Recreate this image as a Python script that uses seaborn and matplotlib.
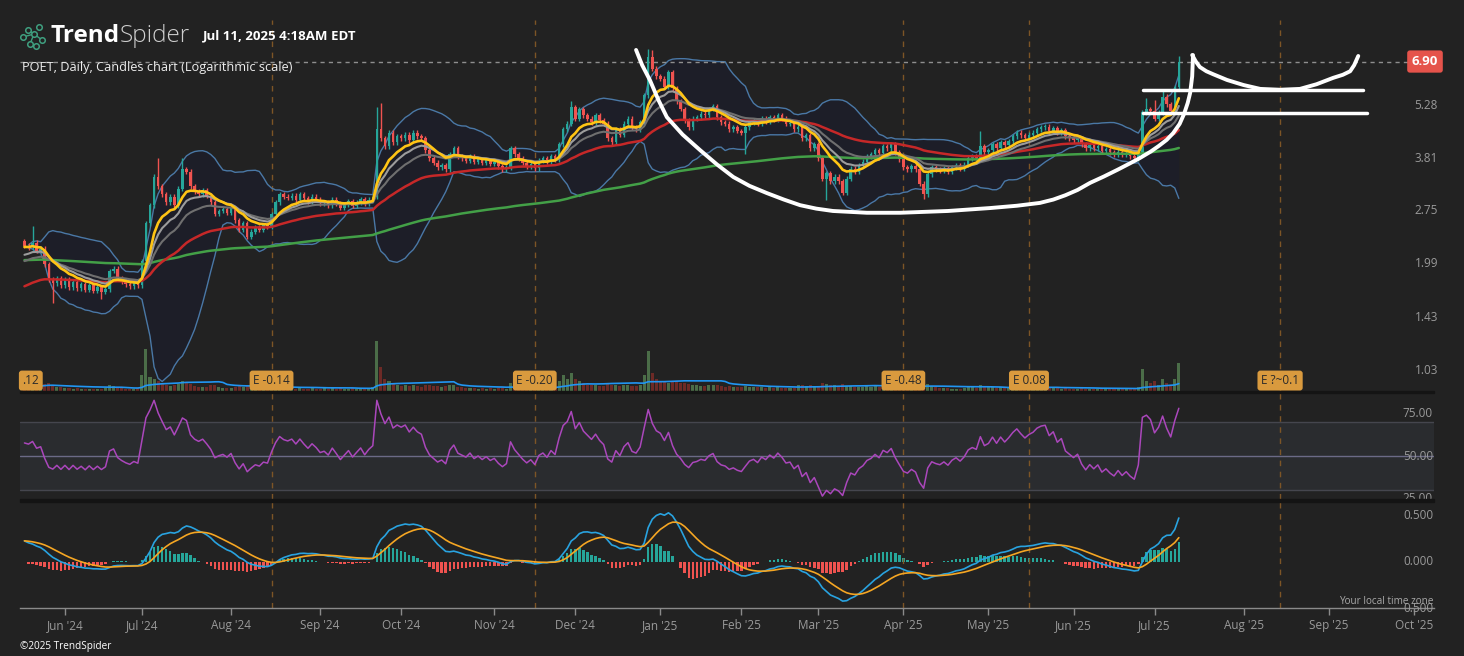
import numpy as np
import pandas as pd
import matplotlib
matplotlib.use("Agg")
import matplotlib.pyplot as plt
import matplotlib.transforms as mtransforms
from matplotlib.patches import Rectangle
from matplotlib.lines import Line2D
import seaborn as sns

# ---------------- data ----------------
START = "2024-05-17"
CAL_END = "2025-10-31"
HOLIDAYS = ["2024-05-27", "2024-06-19", "2024-07-04", "2024-09-02", "2024-11-28",
            "2024-12-25", "2025-01-01", "2025-01-09", "2025-01-20", "2025-02-17",
            "2025-04-18", "2025-05-26", "2025-06-19", "2025-07-04", "2025-09-01"]

first_open = 2.28
closes = [
    2.22, 2.20, 2.26, 2.15, 2.18, 1.98, 1.80, 1.76, 1.82, 1.74,
    1.80, 1.72, 1.78, 1.71, 1.75, 1.69, 1.74, 1.68, 1.72, 1.67,
    1.70, 1.90, 1.93, 1.82, 1.78, 1.75, 1.73, 1.76, 1.74, 2.02,
    2.55, 2.85, 3.40, 3.20, 3.05, 2.90, 3.00, 2.85, 3.15, 3.55,
    3.50, 3.20, 3.10, 3.05, 3.12, 3.02, 2.90, 2.70, 2.75, 2.78,
    2.72, 2.80, 2.60, 2.45, 2.55, 2.35, 2.42, 2.48, 2.45, 2.52,
    2.50, 2.70, 2.90, 3.05, 3.00, 2.98, 3.02, 2.95, 3.05, 2.98,
    2.92, 3.00, 2.95, 2.88, 2.90, 2.85, 2.95, 2.88, 2.80, 2.86,
    2.92, 2.84, 2.90, 2.96, 2.88, 2.95, 3.00, 4.55, 4.30, 4.10,
    4.45, 4.20, 4.35, 4.30, 4.40, 4.25, 4.45, 4.35, 4.30, 4.00,
    3.80, 3.70, 3.60, 3.65, 3.55, 3.90, 4.05, 3.85, 3.80, 3.75,
    3.85, 3.72, 3.78, 3.70, 3.76, 3.68, 3.72, 3.62, 3.55, 3.60,
    4.05, 3.90, 3.80, 3.70, 3.62, 3.68, 3.58, 3.75, 3.80, 3.72,
    3.85, 3.78, 4.15, 4.55, 4.70, 5.20, 4.85, 5.15, 4.95, 4.85,
    4.75, 4.95, 4.80, 4.70, 4.30, 4.20, 4.55, 4.40, 4.70, 4.85,
    4.60, 4.55, 4.75, 5.60, 7.10, 6.60, 6.30, 6.20, 5.90, 6.45,
    5.85, 5.40, 5.15, 4.80, 4.60, 4.85, 4.90, 5.00, 4.95, 5.15,
    5.25, 4.90, 4.75, 4.70, 4.55, 4.60, 4.50, 4.45, 4.60, 4.75,
    4.80, 4.70, 4.85, 4.78, 4.90, 4.82, 4.95, 4.85, 4.70, 4.72,
    4.55, 4.62, 4.30, 4.38, 4.05, 4.15, 3.80, 3.35, 3.47, 3.30,
    3.40, 3.30, 3.08, 3.35, 3.57, 3.50, 3.65, 3.72, 3.85, 3.90,
    4.00, 3.92, 4.10, 4.05, 4.15, 3.95, 3.78, 3.60, 3.55, 3.62,
    3.55, 3.25, 3.05, 3.45, 3.60, 3.55, 3.52, 3.58, 3.50, 3.60,
    3.65, 3.58, 3.66, 3.80, 3.85, 3.82, 4.10, 3.95, 4.00, 4.15,
    4.05, 4.20, 4.12, 4.22, 4.35, 4.45, 4.38, 4.32, 4.40, 4.45,
    4.55, 4.60, 4.62, 4.50, 4.58, 4.45, 4.52, 4.35, 4.30, 4.25,
    4.30, 4.15, 4.05, 4.12, 4.05, 4.10, 3.98, 4.02, 3.95, 3.90,
    3.96, 3.88, 3.92, 3.85, 3.80, 3.95, 5.05, 5.15, 5.08, 4.85,
    5.05, 5.55, 5.30, 5.10, 5.90, 6.90,
]

volumes = [  # millions
    3, 2.5, 3, 2, 2, 3.5, 4, 3, 2, 2,
    1.5, 1.5, 1.2, 1.5, 1.2, 1, 1.2, 1, 1.2, 1,
    1.5, 3, 2.5, 2, 1.5, 1.2, 1.2, 1, 1.5, 8,
    21, 7, 6, 5, 4, 3, 2.5, 3, 3.5, 5,
    4, 3.5, 2.5, 2, 2, 2, 3, 3, 2, 1.5,
    1.5, 1.5, 2, 2.5, 2, 2.5, 1.5, 1.2, 1.2, 1.2,
    1.5, 2.5, 3, 3, 2, 1.5, 1.5, 1.2, 1.5, 1.2,
    1.2, 1.5, 1.2, 1.2, 1.5, 1.2, 1.5, 1.2, 1.5, 1.2,
    1.2, 1.5, 1.2, 1.5, 1.2, 1.5, 2, 25, 12, 6,
    5, 4, 3, 2.5, 3, 2.5, 3, 2.5, 2, 3,
    3, 2.5, 2.5, 2, 2.5, 3, 3, 2, 2, 1.5,
    1.5, 1.5, 1.2, 1.5, 1.2, 1.5, 1.2, 1.5, 1.5, 1.2,
    4, 3, 2, 1.5, 2, 1.5, 2, 2, 1.5, 1.5,
    2, 2, 5, 8, 6, 9, 6, 5, 4, 3,
    3, 3, 2.5, 2.5, 4, 3, 3, 2.5, 3, 3,
    2.5, 2.5, 3, 8, 20, 9, 6, 5, 5, 4,
    5, 5, 4, 4, 3.5, 3, 3, 2.5, 2.5, 3,
    3, 3, 2.5, 2, 2.5, 2, 2, 2, 2.5, 2,
    2, 2, 2, 1.5, 2, 1.5, 2, 1.5, 1.5, 1.5,
    1.5, 3, 3, 2.5, 3, 2.5, 2.5, 4, 3.5, 3,
    3, 2.5, 3.5, 2.5, 2.5, 2, 2, 2, 2.5, 2,
    2.5, 2, 2.5, 2, 2, 2, 2, 3, 2.5, 2.5,
    2.5, 3, 4, 3.5, 2.5, 2, 1.5, 1.5, 1.5, 1.2,
    1.2, 1.2, 1.5, 2, 2, 1.5, 3, 2, 2, 2,
    1.5, 2, 1.5, 1.5, 2, 2.5, 2, 1.5, 1.5, 1.5,
    2, 2, 1.5, 1.5, 1.5, 1.5, 1.2, 1.5, 1.2, 1.2,
    1.2, 1.5, 1.2, 1.2, 1.2, 1, 1.2, 1, 1.2, 1,
    1, 1.2, 1, 1.2, 1.5, 2, 11, 5, 4, 5,
    3, 6, 4, 3, 6, 14,
]

# notable wicks (index: price)
wick_highs = {2: 2.50, 33: 3.82, 39: 3.80, 87: 5.20, 88: 5.35, 135: 5.40, 154: 7.45,
              155: 7.40, 236: 4.50, 277: 5.50, 279: 5.45, 281: 5.80, 285: 7.15}
wick_lows = {7: 1.56, 19: 1.60, 178: 3.90, 198: 2.94, 222: 2.96}

# indicator seed values (state before the first visible bar)
seed_ema9, seed_ema13, seed_ema21, seed_ema50, seed_ema200 = 2.20, 2.08, 2.00, 1.71, 2.03
seed_ema12, seed_ema26, seed_signal = 2.25, 2.00, 0.23
seed_avg_gain, seed_avg_loss = 0.080, 0.058

earn_dates = ["2024-08-15", "2024-11-15", "2025-04-01", "2025-05-15", "2025-08-14"]
earn_labels = ["E -0.14", "E -0.20", "E -0.48", "E 0.08", "E ?~0.1"]

price_ticks = [5.28, 3.81, 2.75, 1.99, 1.43, 1.03]
rsi_ticks = [75, 50, 25]
macd_ticks = [0.5, 0.0, -0.5]
macd_tick_text = ["0.500", "0.000", "0.500"]
last_price = 6.90

# hand-drawn cup & handle annotation (bar index, price)
cup_i = [151.0, 152.5, 154.4, 156.5, 158.6, 162.5, 166.8, 171.0, 175.0, 179.0, 183.3, 187.5,
         191.5, 195.5, 199.6, 208.0, 216.2, 228.0, 238.4, 245.0, 250.7, 254.0, 257.0, 260.0,
         263.1, 266.5, 270.0, 273.0, 275.4, 278.0, 280.0, 282.0, 283.6, 285.2, 286.3,
         287.2, 287.8, 288.3, 288.5]
cup_p = [7.41, 6.75, 6.16, 5.45, 4.90, 4.40, 4.00, 3.66, 3.39, 3.21, 3.07, 2.95,
         2.85, 2.79, 2.75, 2.72, 2.72, 2.75, 2.80, 2.84, 2.89, 2.95, 3.03, 3.13,
         3.27, 3.40, 3.55, 3.69, 3.81, 3.96, 4.10, 4.26, 4.44, 4.70, 5.00,
         5.35, 5.69, 6.30, 7.18]
handle_i = [288.3, 289.2, 290.2, 291.8, 293.5, 296.9, 301.0, 305.1, 310.0, 314.9, 319.0,
            323.1, 325.5, 327.3, 328.3, 329.3]
handle_p = [7.18, 6.90, 6.67, 6.50, 6.38, 6.16, 5.97, 5.83, 5.80, 5.83, 6.00,
            6.24, 6.36, 6.50, 6.75, 7.14]
level_lines = [(5.79, 276.2, 330.5), (5.03, 276.2, 331.4)]

# ---------------- derived ----------------
cal = pd.bdate_range(START, CAL_END, freq="C", holidays=HOLIDAYS)
n = len(closes)
x = np.arange(n)
c = np.array(closes)
o = np.r_[first_open, c[:-1]]
hi = np.maximum(o, c) * 1.015
lo = np.minimum(o, c) / 1.015
for k, v in wick_highs.items():
    hi[k] = v
for k, v in wick_lows.items():
    lo[k] = v
up = c >= o


def ema(vals, span, seed):
    return pd.Series(np.r_[seed, vals]).ewm(span=span, adjust=False).mean().to_numpy()[1:]


ema9 = ema(c, 9, seed_ema9)
ema13 = ema(c, 13, seed_ema13)
ema21 = ema(c, 21, seed_ema21)
ema50 = ema(c, 50, seed_ema50)
ema200 = ema(c, 200, seed_ema200)
s = pd.Series(c)
mid = s.rolling(20, min_periods=2).mean()
sd = s.rolling(20, min_periods=2).std(ddof=0)
bb_up = (mid + 2 * sd).to_numpy()
bb_lo = (mid - 2 * sd).to_numpy()

diff = np.r_[0.0, np.diff(c)]
ag, al = seed_avg_gain, seed_avg_loss
rsi = []
for d in diff:
    ag = (ag * 13 + max(d, 0)) / 14
    al = (al * 13 + max(-d, 0)) / 14
    rsi.append(100 - 100 / (1 + ag / al))
rsi = np.array(rsi)

macd = ema(c, 12, seed_ema12) - ema(c, 26, seed_ema26)
signal = ema(macd, 9, seed_signal)
hist = macd - signal

vol = np.array(volumes)
vol_ma = pd.Series(vol).rolling(20, min_periods=1).mean().to_numpy()

# ---------------- style ----------------
BG = "#222222"
sns.set_theme(style="dark", rc={"axes.facecolor": BG, "figure.facecolor": BG})
plt.rcParams["font.family"] = ["Open Sans", "DejaVu Sans"]

W, H = 1464, 656
fig = plt.figure(figsize=(W / 100, H / 100), dpi=100, facecolor=BG)


def fax(x0, y0, x1, y1):
    return fig.add_axes([x0 / W, 1 - y1 / H, (x1 - x0) / W, (y1 - y0) / H])


XL, XR = 20, 1434
ax = fax(XL, 20, XR, 391)
axr = fax(XL, 393, XR, 499)
axm = fax(XL, 502, XR, 608)
XLIM = (-1.1, 348.0)

for a in (ax, axr, axm):
    a.set_facecolor(BG)
    a.set_xlim(*XLIM)
    for sp in a.spines.values():
        sp.set_visible(False)
    a.tick_params(left=False, labelleft=False, bottom=False, labelbottom=False)
    a.grid(False)

# volume (behind price)
axv = ax.twinx()
axv.set_ylim(0, 185)
axv.set_xlim(*XLIM)
for sp in axv.spines.values():
    sp.set_visible(False)
axv.tick_params(right=False, labelright=False)
axv.grid(False)
ax.set_zorder(axv.get_zorder() + 1)
ax.patch.set_visible(False)
axv.set_facecolor(BG)
axv.bar(x, vol, width=0.75, color=np.where(up, "#4b6d48", "#6d2a26"), linewidth=0)
sns.lineplot(x=x, y=vol_ma, ax=axv, color="#2196f3", linewidth=1.2, estimator=None)

# price panel
ax.set_yscale("log")
ax.set_ylim(0.908, 8.91)
ax.minorticks_off()
ax.tick_params(which="both", left=False, right=False, labelleft=False)
ax.fill_between(x, bb_lo, bb_up, color="#1d1e28", zorder=1, linewidth=0)
sns.lineplot(x=x, y=bb_up, ax=ax, color="#4a78a6", linewidth=1.0, estimator=None, zorder=2)
sns.lineplot(x=x, y=bb_lo, ax=ax, color="#4a78a6", linewidth=1.0, estimator=None, zorder=2)

ccol = np.where(up, "#26a69a", "#ef5350")
ax.vlines(x, lo, hi, colors=ccol, linewidth=1.0, zorder=3)
body_h = np.maximum(np.abs(c - o), c * 0.006)
ax.bar(x, body_h, bottom=np.minimum(o, c), width=0.62, color=ccol, linewidth=0, zorder=4)

for yv, col, lw in [(ema200, "#43a047", 1.8), (ema50, "#c62828", 1.8), (ema21, "#6f6f6f", 1.5),
                    (ema13, "#9c9c9c", 1.5), (ema9, "#ffc414", 1.9)]:
    sns.lineplot(x=x, y=yv, ax=ax, color=col, linewidth=lw, estimator=None, zorder=5)

# last price line + label
ax.plot([XLIM[0], 344.0], [last_price, last_price], color="#8e8e8e", lw=1.0,
        ls=(0, (3, 3)), zorder=2)
bt = mtransforms.blended_transform_factory(ax.transAxes, ax.transData)
ax.text((1425 - XL) / (XR - XL), last_price, f"{last_price:.2f}", transform=bt,
        ha="center", va="center", color="white", fontsize=9.5, fontweight="bold",
        clip_on=False, zorder=10,
        bbox=dict(boxstyle="round,pad=0.35,rounding_size=0.2", fc="#e5534b", ec="none"))
for t in price_ticks:
    ax.text((1438 - XL) / (XR - XL), t, f"{t:.2f}", transform=bt, ha="right",
            va="center", color="#9a9a9a", fontsize=8.5, clip_on=False)

# cup & handle annotation
ax.plot(cup_i, cup_p, color="white", lw=2.8, solid_capstyle="round",
        solid_joinstyle="round", zorder=8)
ax.plot(handle_i, handle_p, color="white", lw=2.8, solid_capstyle="round",
        solid_joinstyle="round", zorder=8)
for yv, x0, x1 in level_lines:
    ax.plot([x0, x1], [yv, yv], color="white", lw=2.5, zorder=8)

# earnings markers
cal_idx = {d.strftime("%Y-%m-%d"): k for k, d in enumerate(cal)}
earn_x = [cal_idx[d] for d in earn_dates]
for a in (ax, axr, axm):
    for ex in earn_x:
        a.axvline(ex, color="#7d5526", lw=1.0, ls=(0, (4, 4)), zorder=1.5)
bx = mtransforms.blended_transform_factory(ax.transData, ax.transAxes)
for ex, lab in zip(earn_x, earn_labels):
    ax.text(ex, 0.028, lab, transform=bx, ha="center", va="center", fontsize=8.5,
            color="#2a2a2a", zorder=9,
            bbox=dict(boxstyle="round,pad=0.3,rounding_size=0.25", fc="#d99a3e", ec="none"))
ax.text(-0.5, 0.028, ".12", transform=bx, ha="left", va="center", fontsize=8.5,
        color="#2a2a2a", zorder=9,
        bbox=dict(boxstyle="round,pad=0.3,rounding_size=0.25", fc="#d99a3e", ec="none"))

# RSI panel
axr.set_ylim(25.0, 87.35)
axr.axhspan(30, 70, color="#2a2c2f", zorder=0, linewidth=0)
axr.axhline(70, color="#45464e", lw=1.0, zorder=0.5)
axr.axhline(30, color="#45464e", lw=1.0, zorder=0.5)
axr.axhline(50, color="#6b6a86", lw=1.0, zorder=0.5)
sns.lineplot(x=x, y=rsi, ax=axr, color="#ab47bc", linewidth=1.1, estimator=None, zorder=3)
brt = mtransforms.blended_transform_factory(axr.transAxes, axr.transData)
for t in rsi_ticks:
    axr.text((1433 - XL) / (XR - XL), t, f"{t:.2f}", transform=brt, ha="right",
             va="center", color="#9a9a9a", fontsize=8.5, clip_on=False)

# MACD panel
axm.set_ylim(-0.5, 0.652)
axm.bar(x, hist, width=0.6, color=np.where(hist >= 0, "#26a69a", "#ef5350"), linewidth=0)
sns.lineplot(x=x, y=macd, ax=axm, color="#29a3e0", linewidth=1.2, estimator=None, zorder=3)
sns.lineplot(x=x, y=signal, ax=axm, color="#f5a623", linewidth=1.2, estimator=None, zorder=3)
bmt = mtransforms.blended_transform_factory(axm.transAxes, axm.transData)
for t, lab in zip(macd_ticks, macd_tick_text):
    axm.text((1433 - XL) / (XR - XL), t, lab, transform=bmt, ha="right",
             va="center", color="#9a9a9a", fontsize=8.5, clip_on=False)

# x axis
month_starts = cal.to_series().groupby([cal.year, cal.month]).min()
tick_pos, tick_lab = [], []
for d in month_starts:
    k = cal.get_loc(d)
    if XLIM[0] < k < XLIM[1] and k > 0:
        tick_pos.append(k)
        tick_lab.append(d.strftime("%b '%y"))
axm.spines["bottom"].set_visible(True)
axm.spines["bottom"].set_color("#8a8a8a")
axm.spines["bottom"].set_linewidth(1.0)
axm.set_xticks(tick_pos)
axm.set_xticklabels(tick_lab)
axm.tick_params(bottom=True, labelbottom=True, length=5, width=1, color="#8a8a8a",
                labelcolor="#9a9a9a", labelsize=8.5, pad=3)

# separators
for y0, hgt in [(391, 2), (499, 3)]:
    fig.patches.append(Rectangle((XL / W, 1 - (y0 + hgt) / H), (XR - XL) / W, hgt / H,
                                 transform=fig.transFigure, color="#141414", zorder=5))

# header texts
t_trend = fig.text(50 / W, 1 - 36 / H, "Trend", color="white", fontsize=17.5, fontweight="bold",
                   va="center", ha="left")
renderer = fig.canvas.get_renderer()
bb = t_trend.get_window_extent(renderer=renderer)
fig.text(bb.x1 / W + 1 / W, 1 - 36 / H, "Spider", color="#cfcfcf", fontsize=17.5,
         fontweight="light", va="center", ha="left")
fig.text(203 / W, 1 - 36 / H, "Jul 11, 2025 4:18AM EDT", color="white", fontsize=9.5,
         fontweight="bold", va="center", ha="left")
fig.text(22 / W, 1 - 68 / H, "POET, Daily, Candles chart (Logarithmic scale)", color="#eeeeee",
         fontsize=9.2, va="center", ha="left")
fig.text(20 / W, 1 - 647 / H, "©2025 TrendSpider", color="white", fontsize=7.2,
         va="center", ha="left")
fig.text(1434 / W, 1 - 602 / H, "Your local time zone", color="#a8a8a8", fontsize=7.2,
         va="center", ha="right")

# logo dots
dots = [(23, 37), (28, 30), (34, 34), (39, 27), (42, 40), (30, 44), (36, 46)]
for (x0, y0), (x1, y1) in [(dots[0], dots[2]), (dots[1], dots[2]), (dots[2], dots[4]), (dots[2], dots[5])]:
    fig.add_artist(Line2D([x0 / W, x1 / W], [1 - y0 / H, 1 - y1 / H], color="#3f9f7f", lw=1))
for (x0, y0) in dots:
    fig.add_artist(Line2D([x0 / W], [1 - y0 / H], marker="o", markersize=4, markerfacecolor=BG,
                          markeredgecolor="#3f9f7f", markeredgewidth=1.1))

fig.savefig("out.png", dpi=100, facecolor=BG)
